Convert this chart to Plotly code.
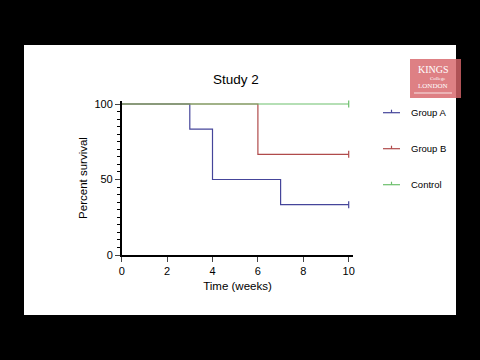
import plotly.graph_objects as go

# ---- data ----
series_names = ["Group A", "Group B", "Control"]
times_a = [0, 3, 4, 7, 10]
surv_a = [100, 83.33, 50, 33.33, 33.33]
times_b = [0, 6, 10]
surv_b = [100, 66.67, 66.67]
times_c = [0, 10]
surv_c = [100, 100]
censor_time = [10]
x_ticks = [0, 2, 4, 6, 8, 10]
y_ticks = [0, 50, 100]

colors = ["#45459a", "#b04a4a", "#6cbf6c"]

W, H = 480, 360
def px(x):
    return x / W
def py(y):
    return (H - y) / H

fig = go.Figure()
data = [(times_a, surv_a), (times_b, surv_b), (times_c, surv_c)]
for (t, s), name, c in zip(data, series_names, colors):
    fig.add_trace(go.Scatter(x=t, y=s, mode="lines", line=dict(color=c, width=1.2, shape="hv"),
                             name=name, showlegend=False, hoverinfo="skip"))
    fig.add_trace(go.Scatter(x=censor_time, y=[s[-1]], mode="markers",
                             marker=dict(symbol="line-ns", size=5, line=dict(color=c, width=1.2)),
                             showlegend=False, hoverinfo="skip", cliponaxis=False))

# plot area geometry (pixels)
x0p, xunit = 121.7, 22.7
y0p, yunit = 255.0, 1.51
xr = [0, 10.2]
yr = [0, 102]
fig.update_layout(
    width=W, height=H,
    margin=dict(l=0, r=0, t=0, b=0, autoexpand=False),
    paper_bgcolor="black", plot_bgcolor="white",
    font=dict(family="Liberation Sans, Arial, sans-serif", color="black"),
    xaxis=dict(domain=[px(x0p), px(x0p + xunit * xr[1])], range=xr, automargin=False,
               tickvals=x_ticks, ticks="outside", ticklen=5, tickwidth=1.2,
               showline=True, linecolor="black", linewidth=1.5, showgrid=False, zeroline=False,
               tickfont=dict(size=11), title=dict(text="Time (weeks)", font=dict(size=11.5), standoff=6)),
    yaxis=dict(domain=[py(y0p), py(y0p - yunit * yr[1])], range=yr, automargin=False,
               tickvals=y_ticks, ticks="outside", ticklen=5, tickwidth=1.2,
               minor=dict(dtick=5, ticks="outside", ticklen=3, tickwidth=1, tickcolor="black"),
               showline=True, linecolor="black", linewidth=1.5, showgrid=False, zeroline=False,
               tickfont=dict(size=11), title=dict(text="Percent survival", font=dict(size=11.5), standoff=4)),
)

shapes = []
annotations = []
# white slide
shapes.append(dict(type="rect", xref="paper", yref="paper", x0=px(24), x1=px(456), y0=py(315), y1=py(45),
                   fillcolor="white", line=dict(width=0), layer="below"))
# logo
shapes.append(dict(type="rect", xref="paper", yref="paper", x0=px(410), x1=px(461), y0=py(98), y1=py(59),
                   fillcolor="rgba(215,100,105,0.82)", line=dict(width=0), layer="above"))
shapes.append(dict(type="line", xref="paper", yref="paper", x0=px(414), x1=px(452), y0=py(93), y1=py(93),
                   line=dict(color="rgba(255,255,255,0.8)", width=1)))
logo_font = "Liberation Serif, serif"
annotations += [
    dict(text="KINGS", x=px(433), y=py(69), font=dict(family=logo_font, size=10, color="white")),
    dict(text="College", x=px(438), y=py(78), font=dict(family=logo_font, size=5, color="white")),
    dict(text="LONDON", x=px(433), y=py(86), font=dict(family=logo_font, size=7, color="white")),
]
# title
annotations.append(dict(text="Study 2", x=px(236), y=py(79), font=dict(size=13.5)))
# legend (manual)
legend_y = [112.7, 148.7, 184.7]
for name, c, ly in zip(series_names, colors, legend_y):
    shapes.append(dict(type="line", xref="paper", yref="paper", x0=px(383), x1=px(400), y0=py(ly), y1=py(ly),
                       line=dict(color=c, width=1.2)))
    shapes.append(dict(type="line", xref="paper", yref="paper", x0=px(391.5), x1=px(391.5), y0=py(ly), y1=py(ly - 3),
                       line=dict(color=c, width=1.2)))
    annotations.append(dict(text=name, x=px(409), y=py(ly), xanchor="left", font=dict(size=9.5)))
for a in annotations:
    a.setdefault("xref", "paper")
    a.setdefault("yref", "paper")
    a.setdefault("showarrow", False)
    a.setdefault("xanchor", "center")
    a.setdefault("yanchor", "middle")
fig.update_layout(shapes=shapes, annotations=annotations)

fig.write_html("out.html", config={"displayModeBar": False},
               post_script="document.body.style.margin='0';document.body.style.background='black';document.body.style.overflow='hidden';")
